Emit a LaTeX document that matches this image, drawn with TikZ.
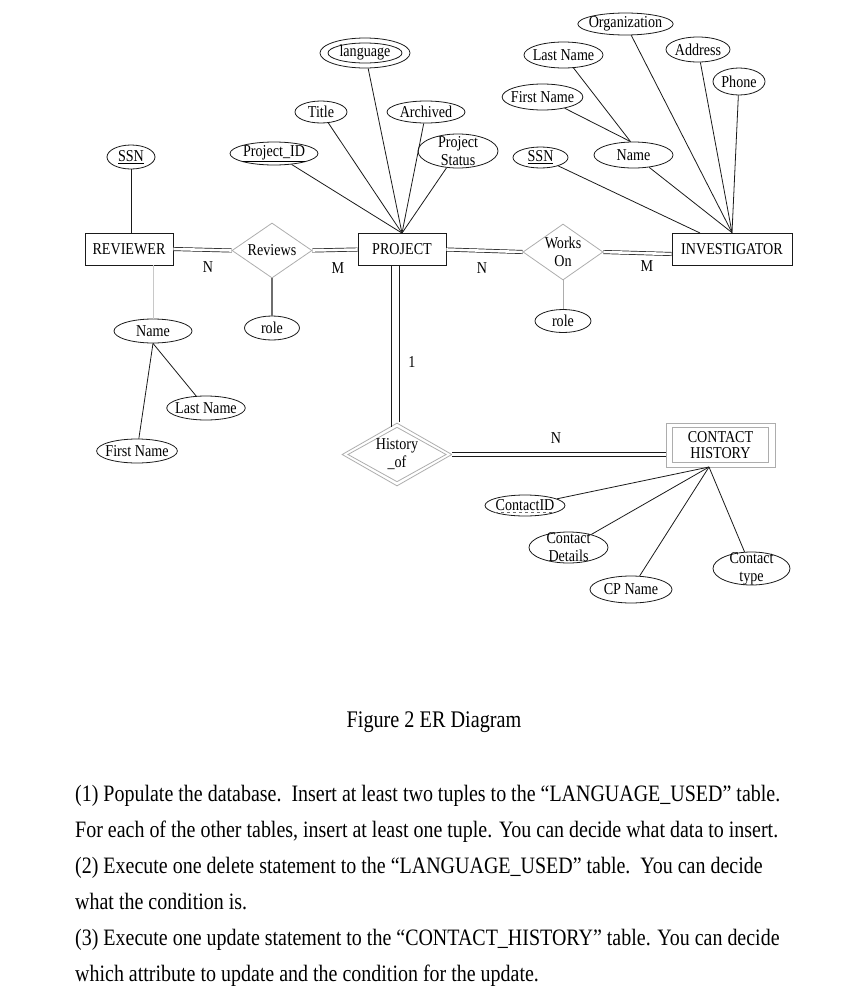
\documentclass[tikz,border=0pt]{standalone}
\usepackage{fontspec}
\setmainfont{Liberation Serif}[FakeStretch=0.85]
\usetikzlibrary{shapes.geometric,calc}
\definecolor{ink}{HTML}{1A1A1A}
\definecolor{relc}{HTML}{ADADAD}
\definecolor{soft}{HTML}{C8C8C8}
\definecolor{mid}{HTML}{6E6E6E}
\newcommand{\erfont}{\fontsize{16.6}{18}\selectfont}
\newcommand{\txfont}{\fontsize{23.5}{36}\selectfont}
\tikzset{
  ent/.style={draw=ink,line width=0.8pt,rectangle,minimum width=88pt,minimum height=32pt,inner sep=0pt,font=\erfont},
  attr/.style 2 args={draw=ink,line width=0.8pt,ellipse,inner xsep=-3pt,inner ysep=-5pt,
    minimum width=#1pt,minimum height=#2pt,font=\erfont,align=center},
  rel/.style={draw=relc,line width=0.8pt,diamond,aspect=1.45,inner sep=0pt,font=\erfont,align=center},
  card/.style={font=\erfont,inner sep=0pt},
  conn/.style={ink,line width=0.8pt},
  dbl/.style={draw=ink,line width=0.7pt,double=white,double distance=2.6pt},
  txt/.style={font=\txfont,anchor=base west,inner sep=0pt},
}

\begin{document}
\begin{tikzpicture}[x=1pt,y=-1pt]
  \useasboundingbox (0,0) rectangle (853,999);
  % ---------- entities and relationships ----------
  \node[ent] (rev) at (129,249) {REVIEWER};
  \node[ent] (proj) at (402,249.5) {PROJECT};
  \node[ent,minimum width=120pt] (inv) at (732,249) {INVESTIGATOR};
  \node[rel,minimum width=80pt,minimum height=55pt] (revs) at (272,250.5) {Reviews};
  \node[rel,minimum width=80pt,minimum height=56pt] (works) at (563,252) {Works\\On};
  \node[rel,aspect=1.75,minimum width=110pt,minimum height=63pt] (hist) at (397,454.5) {};
  \node[rel,aspect=1.8,minimum width=81pt,minimum height=45pt] (histin) at (397,454.5) {History\\\_of};
  \node[ent,draw=relc,minimum width=109pt,minimum height=44pt] (ch) at (720.5,445) {};
  \node[ent,draw=relc,minimum width=96pt,minimum height=35pt,align=center] (chin) at (720.5,445)
    {CONTACT\\[-2pt]HISTORY};
  % ---------- reviewer ----------
  \node[attr={48}{24}] (rssn) at (131,157) {\underline{SSN}};
  \node[attr={78}{24}] (rname) at (153,331) {Name};
  \node[attr={78}{24}] (rlast) at (206,408) {Last Name};
  \node[attr={78}{24}] (rfirst) at (137,451) {First Name};
  \node[attr={55}{24}] (rrole) at (272,328) {role};
  \draw[conn] (rssn) -- (rssn |- rev.north);
  \draw[soft,line width=0.8pt] (rev.south -| rname) -- (rname);
  \draw[conn] (rname.south) -- (rlast);
  \draw[conn] (rname.south) -- (rfirst);
  \draw[mid,line width=1.1pt] (revs.south) -- (rrole);
  % ---------- project ----------
  \node[attr={88}{23}] (pid) at (274,153.5) {\underline{Project\_ID}};
  \node[attr={52}{22}] (title) at (321,112) {Title};
  \node[attr={90}{30}] (lang) at (365,53) {};
  \node[attr={74}{20}] (langin) at (365,53) {language};
  \node[attr={78}{22}] (arch) at (426,112) {Archived};
  \node[attr={80}{34}] (pstat) at (458,151) {Project\\Status};
  \foreach \a in {pid,title,lang,arch,pstat} \draw[conn] (\a) -- (proj.north);
  % ---------- investigator ----------
  \node[attr={95}{22}] (org) at (625.5,24) {Organization};
  \node[attr={64}{25}] (addr) at (698,49.5) {Address};
  \node[attr={52}{27}] (phone) at (739,81.5) {Phone};
  \node[attr={79}{26}] (ilast) at (563.5,55) {Last Name};
  \node[attr={79}{26}] (ifirst) at (542.5,97) {First Name};
  \node[attr={79}{26}] (iname) at (633.5,155) {Name};
  \node[attr={55}{21}] (issn) at (540.5,157.5) {\underline{SSN}};
  \node[attr={56}{23}] (wrole) at (563,321) {role};
  \coordinate (invkey) at (700,233);
  \foreach \a in {org,addr,phone,iname} \draw[conn] (\a) -- (inv.north);
  \draw[conn] (issn) -- (invkey);
  \draw[conn] (ilast) -- ([xshift=-3pt]iname.north);
  \draw[conn] (ifirst) -- ([xshift=-3pt]iname.north);
  \draw[relc,line width=0.9pt] (works.south) -- (wrole);
  % ---------- contact history ----------
  \node[attr={80}{21}] (cid) at (525,505.5) {ContactID};
  \node[attr={79}{31}] (cdet) at (568.5,547.5) {Contact\\Details};
  \node[attr={82}{27}] (cpn) at (631,589.5) {CP Name};
  \node[attr={77}{33}] (ctype) at (751.5,568.5) {Contact\\type};
  \draw[mid,dashed,line width=0.7pt] ([shift={(-30,7)}]cid.center) -- ([shift={(28,7)}]cid.center);
  \coordinate (chhub) at (709,467);
  \foreach \a in {cid,cdet,cpn,ctype} \draw[conn] (\a) -- (chhub);
  % ---------- double links and cardinalities ----------
  \draw[dbl] (rev.east) -- (revs.west);
  \draw[dbl] (revs.east) -- (proj.west);
  \draw[dbl] (proj.east) -- (works.west);
  \draw[dbl] (works.east) -- ([yshift=-5pt]inv.west);
  \draw[conn] ($(proj.south -| hist.north)+(-6,0)$) -- ($(hist.north)+(-6,4)$);
  \draw[conn] ($(proj.south -| hist.north)+(2,0)$) -- ($(hist.north)+(2,-1)$);
  \draw[dbl,double distance=3.5pt] (hist.east) -- (hist.east -| ch.west);
  \node[card] (c1) at (208,267) {N};
  \node[card] (c2) at (338,268) {M};
  \node[card] (c3) at (482,268) {N};
  \node[card] (c4) at (647,266) {M};
  \node[card] (c5) at (412,362) {1};
  \node[card] (c6) at (556,438) {N};
  % ---------- caption and tasks ----------
  \node[font=\fontsize{23.8}{28}\selectfont,inner sep=0pt] (fig) at (434,722) {Figure 2 ER Diagram};
  \node[txt] (q1a) at (75,801) {(1) Populate the database.\ \ Insert at least two tuples to the “LANGUAGE\_USED” table.};
  \node[txt] (q1b) at (75,837) {For each of the other tables, insert at least one tuple. You can decide what data to insert.};
  \node[txt] (q2a) at (75,873) {(2) Execute one delete statement to the “LANGUAGE\_USED” table.\ \ You can decide};
  \node[txt] (q2b) at (75,909) {what the condition is.};
  \node[txt] (q3a) at (75,945) {(3) Execute one update statement to the “CONTACT\_HISTORY” table. You can decide};
  \node[txt] (q3b) at (75,981) {which attribute to update and the condition for the update.};
\end{tikzpicture}
\end{document}
